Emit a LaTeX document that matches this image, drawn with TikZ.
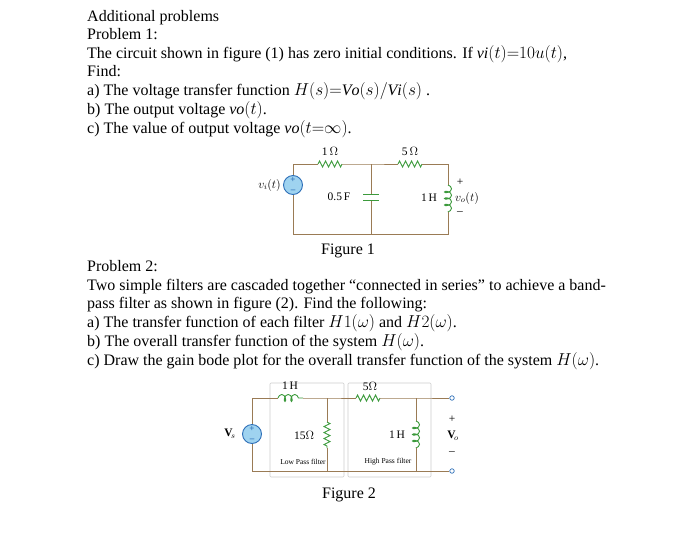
\documentclass[tikz,border=0pt]{standalone}
\usepackage{fontspec}
\setmainfont{Liberation Serif}
\usetikzlibrary{decorations.pathmorphing}
\definecolor{wire}{HTML}{9A7B55}
\definecolor{comp}{HTML}{3C9A3C}
\definecolor{srcf}{HTML}{9FD3F0}
\definecolor{srcd}{HTML}{2E6FB8}
\begin{document}
\begin{tikzpicture}[x=1pt,y=-1pt,
  txt/.style={anchor=base west,inner sep=0,font=\fontsize{16}{18}\selectfont},
  sm/.style={inner sep=1pt,font=\fontsize{11.5}{12}\selectfont},
  tiny/.style={inner sep=1pt,font=\fontsize{7.5}{8}\selectfont},
  pm/.style={inner sep=0,text=srcd,font=\fontsize{9}{9}\selectfont\bfseries},
  w/.style={wire,line width=0.9pt},
  res/.style={comp,line width=0.9pt,decorate,decoration={zigzag,segment length=6,amplitude=3}},
  ind/.style={comp,line width=0.9pt,decorate,decoration={coil,aspect=0.6,segment length=6.5,amplitude=3.5}},
  src/.style={circle,draw=srcd,fill=srcf,line width=0.9pt,minimum size=19pt,inner sep=0},
  fbox/.style={draw=gray!40,line width=0.6pt,rounded corners=1pt}]
\useasboundingbox (0,0) rectangle (700,541);
\node[txt] (t1) at (87,21) {Additional problems};
\node[txt] (t2) at (87,39) {Problem 1:};
\node[txt] (t3) at (87,58) {The circuit shown in figure (1) has zero initial conditions. If $\mathit{vi}(t){=}10u(t)$,};
\node[txt] (t4) at (87,76) {Find:};
\node[txt] (t5) at (87,95) {a) The voltage transfer function $H(s){=}\mathit{Vo}(s)/\mathit{Vi}(s)$ .};
\node[txt] (t6) at (87,114) {b) The output voltage $\mathit{vo}(t)$.};
\node[txt] (t7) at (87,133) {c) The value of output voltage $\mathit{vo}(t{=}\infty)$.};
% figure 1
\coordinate (a1) at (293,164); \coordinate (b1) at (371,164); \coordinate (c1) at (448,164);
\coordinate (a2) at (293,234); \coordinate (b2) at (371,234); \coordinate (c2) at (448,234);
\node[src] (vs1) at (293,185) {};
\node[pm] (vp1) at (293,179.5) {+};
\node[pm] (vm1) at (293,191) {--};
\draw[w] (vs1.north) -- (a1) -- (318,164); \draw[res] (318,164) -- (342,164); \draw[w] (342,164) -- (b1) -- (398,164);
\draw[res] (398,164) -- (422,164); \draw[w] (422,164) -- (c1) -- (448,185);
\draw[ind] (448,185) -- (448,212); \draw[w] (448,212) -- (c2) -- (a2) -- (vs1.south);
\draw[w] (b1) -- (371,194); \draw[w] (b2) -- (371,200);
\draw[comp,line width=1pt] (363,194) -- (379,194) (363,200) -- (379,200);
\node[sm] (r1l) at (330,151) {1\,$\Omega$};
\node[sm] (r2l) at (410,151) {5\,$\Omega$};
\node[sm] (cl) at (339,197) {0.5\,F};
\node[sm] (ll) at (429,198) {1\,H};
\node[sm,anchor=east] (vil) at (282,185) {$v_i(t)$};
\node[sm] (p1) at (460,182) {+};
\node[sm] (m1) at (460,213) {--};
\node[sm,anchor=west] (vol) at (454,198) {$v_o(t)$};
\node[txt,anchor=base] (f1) at (348,254) {Figure 1};
% problem 2
\node[txt] (u1) at (87,271) {Problem 2:};
\node[txt] (u2) at (87,290) {Two simple filters are cascaded together “connected in series” to achieve a band-};
\node[txt] (u3) at (87,308) {pass filter as shown in figure (2). Find the following:};
\node[txt] (u4) at (87,327) {a) The transfer function of each filter $H1(\omega)$ and $H2(\omega)$.};
\node[txt] (u5) at (87,346) {b) The overall transfer function of the system $H(\omega)$.};
\node[txt] (u6) at (87,365) {c) Draw the gain bode plot for the overall transfer function of the system $H(\omega)$.};
% figure 2
\draw[fbox] (270,383) rectangle (344,477);
\draw[fbox] (348,383) rectangle (431,477);
\node[src] (vs2) at (252,434) {};
\node[pm] (vp2) at (252,428.5) {+};
\node[pm] (vm2) at (252,440) {--};
\coordinate (d1) at (252,398); \coordinate (e1) at (327,398); \coordinate (g1) at (416,398);
\coordinate (d2) at (252,471); \coordinate (e2) at (327,471); \coordinate (g2) at (416,471);
\node[circle,draw=srcd,fill=white,inner sep=0,minimum size=4.5pt,line width=0.7pt] (o1) at (452,398) {};
\node[circle,draw=srcd,fill=white,inner sep=0,minimum size=4.5pt,line width=0.7pt] (o2) at (452,471) {};
\draw[w] (vs2.north) -- (d1) -- (278,398); \draw[ind] (278,398) -- (303,398); \draw[w] (303,398) -- (e1) -- (356,398);
\draw[res] (356,398) -- (380,398); \draw[w] (380,398) -- (g1) -- (o1);
\draw[w] (e1) -- (327,422); \draw[res] (327,422) -- (327,448); \draw[w] (327,448) -- (e2);
\draw[w] (g1) -- (416,421); \draw[ind] (416,421) -- (416,448); \draw[w] (416,448) -- (g2);
\draw[w] (vs2.south) -- (d2) -- (o2);
\node[sm] (l1l) at (290,386) {1\,H};
\node[sm] (r5l) at (370,386) {5$\Omega$};
\node[sm] (r15l) at (304,435) {15$\Omega$};
\node[sm] (l2l) at (397,435) {1\,H};
\node[sm] (vsl) at (230,434) {$\mathbf{V}_{\!s}$};
\node[sm] (vol2) at (453,436) {$\mathbf{V}_{\!o}$};
\node[sm] (p2) at (452,419) {+};
\node[sm] (m2) at (452,453) {--};
\node[tiny] (lp) at (303,462) {Low Pass filter};
\node[tiny] (hp) at (388,462) {High Pass filter};
\node[txt,anchor=base] (f2) at (349,498) {Figure 2};
\end{tikzpicture}
\end{document}
